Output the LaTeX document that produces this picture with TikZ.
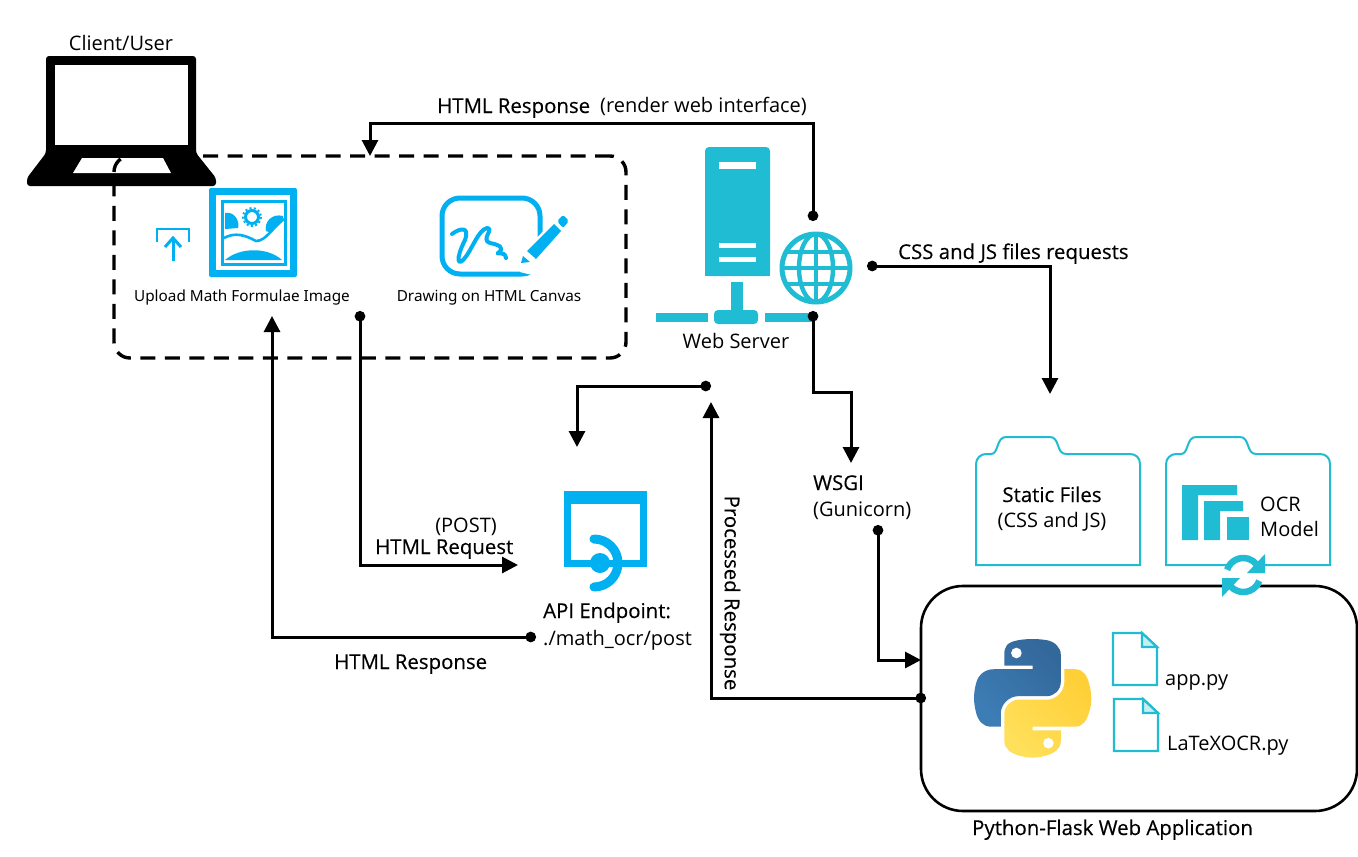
\documentclass[tikz,border=0pt]{standalone}
\usepackage{fontspec}
\setmainfont{Open Sans}
\newfontfamily\smallfont{Noto Sans}
\usetikzlibrary{arrows.meta,svg.path,shapes.geometric}
\definecolor{teal1}{HTML}{20BCD3}
\definecolor{sky1}{HTML}{00B0F0}
\definecolor{pyb1}{HTML}{33689B}
\definecolor{pyb2}{HTML}{3D7DB5}
\definecolor{pyy1}{HTML}{FFE05A}
\definecolor{pyy2}{HTML}{FFCF38}
\tikzset{
  link/.style={line width=3pt,black,shorten <=-5pt,{Circle[length=10.5pt,width=10.5pt]}-{Triangle[length=16pt,width=16pt]}},
  lbl/.style={inner sep=0pt,anchor=base,font=\fontsize{20}{24}\selectfont},
  lblb/.style={lbl,font=\fontsize{20.4}{24}\selectfont\addfontfeatures{FakeBold=0.35}},
  sml/.style={inner sep=0pt,anchor=base,font=\smallfont\fontsize{15.3}{18}\selectfont},
  folder/.style={draw=teal1,line width=2pt,fill=white},
  doc/.style={draw=teal1,line width=2.2pt,fill=white},
}
\begin{document}
\begin{tikzpicture}[x=1pt,y=-1pt,line join=miter]
\useasboundingbox (0,0) rectangle (1358,857);
\fill[white] (0,0) rectangle (1358,857);
% laptop
\fill[black,rounded corners=3pt] (46,153) -- (46,56) -- (196,56) -- (196,153) -- (216,178) -- (216,186) -- (27,186) -- (27,178) -- cycle;
\fill[white] (55,65) rectangle (188,145);
\fill[white] (82,158) -- (163,158) -- (171,173) -- (73,173) -- cycle;
% dashed group
\node[draw,line width=3.4pt,dash pattern=on 15pt off 9.5pt,rounded corners=16pt,minimum width=512pt,minimum height=202pt,inner sep=0pt] (group) at (370,257) {};
% upload image icon
\fill[sky1,rounded corners=2pt] (209,188) rectangle (297,277);
\fill[white] (216,195) rectangle (290,270);
\draw[sky1,line width=3pt] (222.5,201.5) rectangle (285,264);
\draw[sky1,line width=3pt] (252,217) circle[radius=6.5];
\draw[sky1,line width=2pt,dash pattern=on 2pt off 2.4pt] (252,217) circle[radius=9];
\fill[sky1] (225,213) .. controls (235,211) and (240,222) .. (238,228) -- (225,229) -- cycle;
\fill[sky1] (283,216) .. controls (272,213) and (264,222) .. (266,231) -- (269,232) -- (283,220) -- cycle;
\draw[sky1,line width=2.6pt] (224,238) .. controls (235,232) and (245,235) .. (256,241) .. controls (266,241) and (272,228) .. (284,219);
\fill[sky1] (225,260) .. controls (240,247) and (268,247) .. (282,260) -- cycle;
% upload arrow
\draw[sky1,line width=1.6pt] (157,242) -- (157,229) -- (189,229) -- (189,242);
\draw[sky1,line width=3pt] (173,261) -- (173,238);
\draw[sky1,line width=3pt] (165,247) -- (173,238) -- (181,247);
% canvas icon
\draw[sky1,line width=5pt,rounded corners=18pt] (442,198) rectangle (540,274);
\draw[sky1,line width=4pt,line cap=round,line join=round] (452,234) .. controls (460,228) and (470,226) .. (465,240) .. controls (455,260) and (458,266) .. (464,259) .. controls (472,250) and (478,230) .. (487,228) .. controls (495,228) and (480,240) .. (490,243) .. controls (500,245) and (505,248) .. (498,253) .. controls (495,255) and (505,250) .. (506,258);
\fill[white] (518,258) -- (548,226) -- (566,226) -- (566,240) -- (536,276) -- (520,272) -- cycle;
\fill[sky1] (527,251) -- (554,224) -- (561,231) -- (536,259) -- cycle;
\fill[sky1,rounded corners=2pt] (557,221) -- (563,215) -- (569,221) -- (563,228) -- cycle;
\fill[sky1] (521,263) -- (523,256) -- (530,262) -- cycle;
% server
\fill[teal1,rounded corners=4pt] (705,276) -- (705,147) -- (770,147) -- (770,276) -- cycle;
\fill[teal1] (705,270) rectangle (770,276);
\fill[white] (719,162) rectangle (756,169);
\fill[white] (719,243) rectangle (756,247.5);
\fill[white] (719,257) rectangle (756,261.5);
\fill[teal1] (731,282) rectangle (743,312);
\fill[teal1,rounded corners=4pt] (714,310) rectangle (758,324);
\fill[teal1] (656,313) rectangle (708,322);
\fill[teal1] (765,313) rectangle (813,322);
% globe
\draw[teal1,line width=5pt,fill=white] (816,268) circle[radius=34];
\begin{scope}
\clip (816,268) circle[radius=34];
\draw[teal1,line width=4.4pt] (816,234) -- (816,302);
\draw[teal1,line width=4.4pt] (782,268) -- (850,268);
\draw[teal1,line width=4.4pt] (782,252) -- (850,252);
\draw[teal1,line width=4.4pt] (782,284) -- (850,284);
\draw[teal1,line width=4.4pt] (816,268) ellipse[x radius=17,y radius=34];
\end{scope}
% api icon
\fill[sky1] (564,491) rectangle (647,567);
\fill[white] (571,504) rectangle (640,560);
\fill[sky1] (600,563) circle[radius=10];
\draw[sky1,line width=9pt,line cap=round] (594,539) arc[start angle=-90,end angle=90,radius=24];
% folders
\draw[folder] (976,565) -- (976,464) .. controls (976,458) and (981,454) .. (986,454) -- (991,454) .. controls (999,454) and (996,437) .. (1006,437) -- (1050,437) .. controls (1060,437) and (1056,454) .. (1066,454) -- (1130,454) .. controls (1136,454) and (1140,458) .. (1140,464) -- (1140,565) -- cycle;
\draw[folder] (1166,565) -- (1166,464) .. controls (1166,458) and (1171,454) .. (1176,454) -- (1181,454) .. controls (1189,454) and (1186,437) .. (1196,437) -- (1240,437) .. controls (1250,437) and (1246,454) .. (1256,454) -- (1320,454) .. controls (1326,454) and (1330,458) .. (1330,464) -- (1330,565) -- cycle;
% ocr glyph
\fill[teal1] (1182,485) -- (1237,485) -- (1237,495) -- (1198,495) -- (1198,540) -- (1182,540) -- cycle;
\fill[teal1] (1204,501) -- (1243,501) -- (1243,511) -- (1220,511) -- (1220,540) -- (1204,540) -- cycle;
\fill[teal1] (1227,517) rectangle (1249,540);
% flask box
\node[draw,line width=2.6pt,rounded corners=42pt,minimum width=436pt,minimum height=225pt,inner sep=0pt] (flask) at (1139,698.5) {};
% sync icon
\fill[white] (1243.3,575) circle[radius=20];
\draw[teal1,line width=6.5pt] (1243.3,575) ++(-162:17) arc[start angle=-162,end angle=-40,radius=17];
\draw[teal1,line width=6.5pt] (1243.3,575) ++(20:17) arc[start angle=20,end angle=140,radius=17];
\fill[teal1] (1265,554) -- (1265,573) -- (1247,573) -- cycle;
\fill[teal1] (1222,578) -- (1240,578) -- (1222,597) -- cycle;
% documents
\draw[doc] (1113,633) -- (1142,633) -- (1157,647) -- (1157,685) -- (1113,685) -- cycle;
\draw[doc,fill=teal1!25] (1142,633) -- (1142,647) -- (1157,647) -- cycle;
\draw[doc] (1114,699) -- (1143,699) -- (1158,713) -- (1158,751) -- (1114,751) -- cycle;
\draw[doc,fill=teal1!25] (1143,699) -- (1143,713) -- (1158,713) -- cycle;
% python logo
\begin{scope}[shift={(974,639)}]
\path[bottom color=pyb2,top color=pyb1,shading angle=-45] svg[yscale=-1,scale=1.055] {M 54.918785 0.0009 C 50.335132 0.02221727 45.957846 0.41313697 42.106285 1.0946693 30.760069 3.0991731 28.700036 7.2947714 28.700035 15.032169 v 10.21875 h 26.8125 v 3.40625 h -26.8125 -10.0625 c -7.792459 0 -14.6157588 4.683717 -16.7499998 13.59375 -2.46181998 10.212966 -2.57101508 16.586023 0 27.25 1.9059283 7.937852 6.4575432 13.593748 14.2499998 13.59375 h 9.21875 v -12.25 c 0 -8.849902 7.657144 -16.656248 16.75 -16.65625 h 26.78125 c 7.454951 0 13.406253 -6.138164 13.40625 -13.625 v -25.53125 c 0 -7.2663386 -6.12998 -12.7247771 -13.40625 -13.9374997 C 64.281548 0.32794397 59.502438 -0.02037903 54.918785 0.0009 Z};
\path[bottom color=pyy1,top color=pyy2,shading angle=-45] svg[yscale=-1,scale=1.055] {M 85.637535 28.657169 v 11.90625 c 0 9.230755 -7.825895 16.999999 -16.75 17 h -26.78125 c -7.335833 0 -13.40625 6.278483 -13.40625 13.625 v 25.531247 c 0 7.266344 6.318588 11.540324 13.40625 13.625004 8.487331 2.49561 16.626237 2.94663 26.78125 0 6.750155 -1.95439 13.406253 -5.88761 13.40625 -13.625004 V 86.500919 h -26.78125 v -3.40625 h 26.78125 13.406254 c 7.792461 0 10.696251 -5.421804 13.406241 -13.59375 2.79933 -8.413119 2.74022 -16.503831 0 -27.25 -1.92578 -7.737289 -5.60387 -13.59375 -13.406241 -13.59375 Z};
\fill[white] (42.4,14) circle[radius=5.3];
\fill[white] (74.4,104.2) circle[radius=5.3];
\end{scope}
% labels
\node[lbl] (client) at (121,50) {Client/User};
\node[lblb,anchor=base west] (resptop) at (437,113) {HTML Response};
\node[lbl,anchor=base west] (render) at (600,112) {(render web interface)};
\node[sml] (upl) at (242,301) {Upload Math Formulae Image};
\node[sml] (drw) at (489,301) {Drawing on HTML Canvas};
\node[lbl] (websrv) at (736,348) {Web Server};
\node[lblb,anchor=base west] (cssreq) at (898,259) {CSS and JS files requests};
\node[lbl] (post) at (466,532) {(POST)};
\node[lblb,anchor=base west] (htmlreq) at (375,554) {HTML Request};
\node[lblb,anchor=base west] (respbot) at (334,669) {HTML Response};
\node[lblb,anchor=base west] (api) at (543,618) {API Endpoint:};
\node[lbl,anchor=base west] (apipath) at (543,645) {./math\_ocr/post};
\node[lblb,rotate=-90,anchor=center] (proc) at (730,593) {Processed Response};
\node[lblb,anchor=base west] (wsgi) at (813,490) {WSGI};
\node[lbl,anchor=base west] (guni) at (813,516) {(Gunicorn)};
\node[lblb] (static) at (1052,502) {Static Files};
\node[lbl] (cssjs) at (1052,527) {(CSS and JS)};
\node[lbl,anchor=base west] (ocr) at (1260,511) {OCR};
\node[lbl,anchor=base west] (model) at (1260,536) {Model};
\node[lbl,anchor=base west] (apppy) at (1165,685) {app.py};
\node[lbl,anchor=base west] (latexpy) at (1167,750) {LaTeXOCR.py};
\node[lblb,anchor=base west] (flaskl) at (972,835) {Python-Flask Web Application};
% connector ends
\coordinate (a0) at (813,216); \coordinate (a1) at (813,123); \coordinate (a2) at (370,123); \coordinate (a3) at (370,156);
\coordinate (b0) at (872,266); \coordinate (b1) at (1050,266); \coordinate (b2) at (1050,394);
\coordinate (c0) at (813,316); \coordinate (c1) at (813,392); \coordinate (c2) at (851,392); \coordinate (c3) at (851,463);
\coordinate (d0) at (360,316); \coordinate (d1) at (360,565); \coordinate (d2) at (518,565);
\coordinate (e0) at (531,637); \coordinate (e1) at (272,637); \coordinate (e2) at (272,316);
\coordinate (f0) at (921,698); \coordinate (f1) at (711,698); \coordinate (f2) at (711,402);
\coordinate (g0) at (706,386); \coordinate (g1) at (577,386); \coordinate (g2) at (577,447);
\coordinate (h0) at (878,530); \coordinate (h1) at (878,660); \coordinate (h2) at (921,660);
\draw[link] (a0) -- (a1) -- (a2) -- (a3);
\draw[link] (b0) -- (b1) -- (b2);
\draw[link] (c0) -- (c1) -- (c2) -- (c3);
\draw[link] (d0) -- (d1) -- (d2);
\draw[link] (e0) -- (e1) -- (e2);
\draw[link] (f0) -- (f1) -- (f2);
\draw[link] (g0) -- (g1) -- (g2);
\draw[link] (h0) -- (h1) -- (h2);
\end{tikzpicture}
\end{document}
